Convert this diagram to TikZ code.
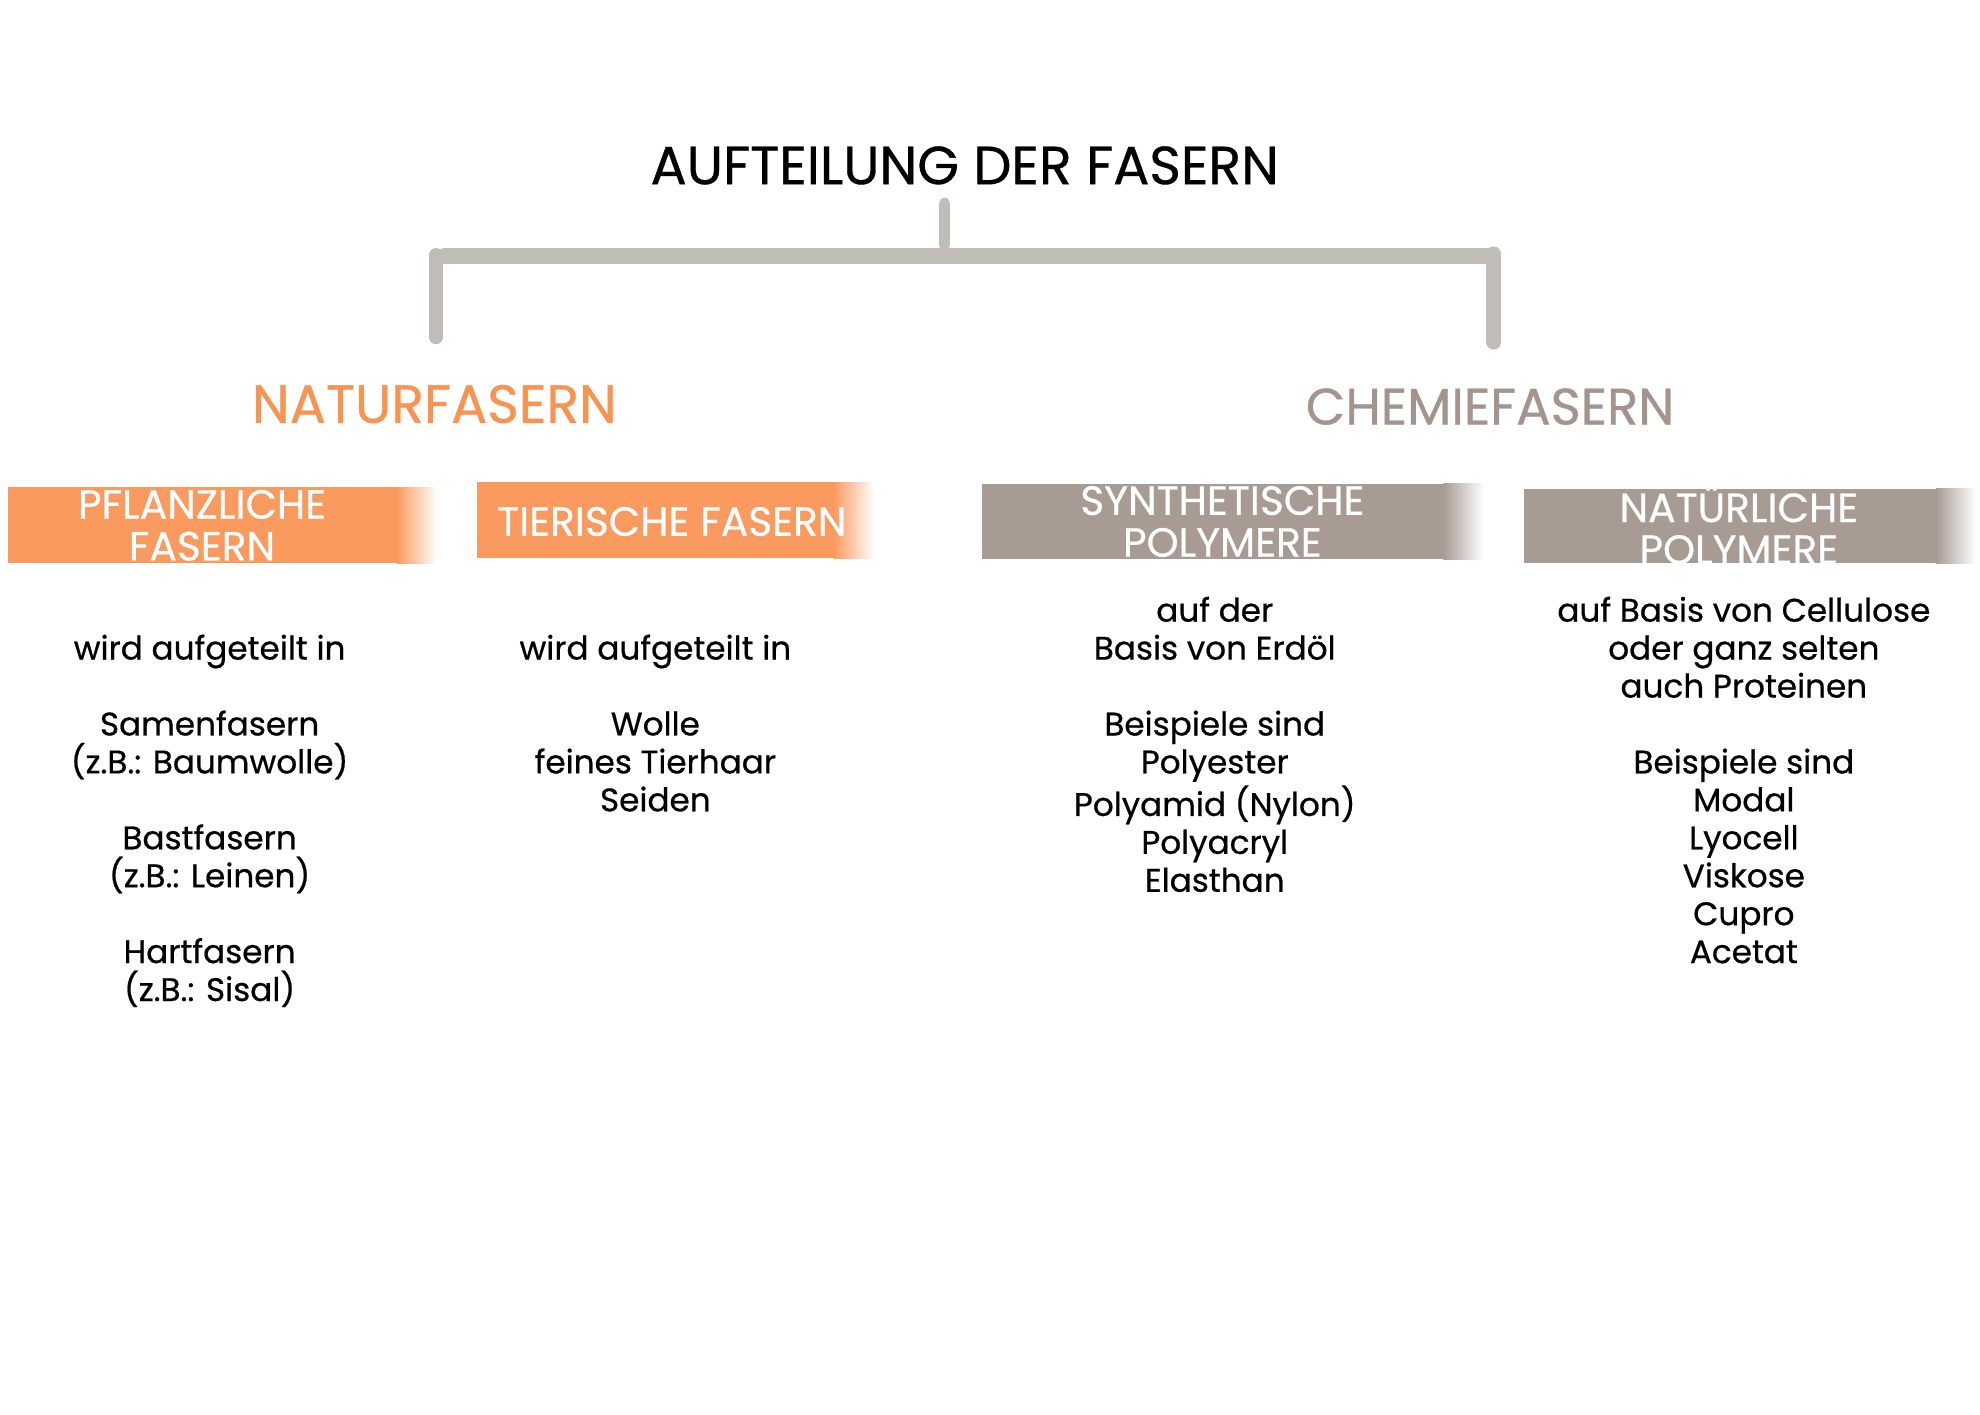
\documentclass[tikz,border=0pt]{standalone}
\usepackage{fontspec}
\setmainfont{Poppins}[FakeBold=0.6]
\usetikzlibrary{positioning}
\definecolor{orangebrush}{HTML}{FA9A5E}
\definecolor{greybrush}{HTML}{A89B93}
\definecolor{orangehead}{HTML}{F79452}
\definecolor{greyhead}{HTML}{A3958D}
\definecolor{bracketgrey}{HTML}{C0BDB8}
\tikzset{
  bracket/.style={draw=bracketgrey, line cap=round},
  headline/.style={font=\fontsize{15.3}{17}\selectfont},
  brushtext/.style={text=white, align=center, inner sep=0pt, font=\fontsize{11.6}{11.9}\selectfont},
  column/.style={align=center, inner sep=0pt, anchor=north, font=\fontsize{9.3}{10.8}\selectfont}
}
% brush stroke: colour, x1, y1, x2, y2
\newcommand{\brushbar}[5]{%
  \fill[#1] (#2,#3) rectangle ({#4-30},#5);
  \shade[left color=#1, middle color=#1, right color=white] ({#4-32},#3) rectangle (#4,#5);
}
\begin{document}
\begin{tikzpicture}[x=0.01263cm, y=-0.01263cm]
\useasboundingbox (0,0) rectangle (1568,1120);

\node[headline] (title) at (764,131) {AUFTEILUNG DER FASERN};

% bracket
\coordinate (stubtop) at (748,161);
\coordinate (stubbot) at (748,194);
\coordinate (barL) at (352,203);
\coordinate (barR) at (1177,203);
\coordinate (legL) at (345,267);
\coordinate (legR) at (1183,271);
\draw[bracket, line width=3.2pt] (stubtop) -- (stubbot);
\draw[bracket, line width=4.6pt] (barL) -- (barR);
\draw[bracket, line width=4pt] (345,202) -- (legL);
\draw[bracket, line width=4.2pt] (1183,201) -- (legR);

\node[headline, text=orangehead] (natur) at (344,320) {NATURFASERN};
\node[headline, text=greyhead, font=\fontsize{14.6}{17}\selectfont] (chemie) at (1180,322) {CHEMIEFASERN};

% brush boxes
\brushbar{orangebrush}{6}{386}{346}{446}
\brushbar{orangebrush}{378}{382}{692}{442}
\brushbar{greybrush}{778}{383}{1175}{443}
\brushbar{greybrush}{1207}{387}{1565}{446}

\node[brushtext] (pflanz) at (160,416) {PFLANZLICHE\\FASERN};
\node[brushtext] (tier) at (532,413) {TIERISCHE FASERN};
\node[brushtext] (synth) at (968,413) {SYNTHETISCHE\\POLYMERE};
\node[brushtext] (natpoly) at (1377,416) {NATÜRLICHE\\POLYMERE};

% columns
\node[column] (colA) at (166,502) {wird aufgeteilt in\\ \mbox{}\\ Samenfasern\\(z.B.: Baumwolle)\\ \mbox{}\\ Bastfasern\\(z.B.: Leinen)\\ \mbox{}\\ Hartfasern\\(z.B.: Sisal)};
\node[column] (colB) at (519,502) {wird aufgeteilt in\\ \mbox{}\\ Wolle\\feines Tierhaar\\Seiden};
\node[column] (colC) at (962,472) {auf der\\Basis von Erdöl\\ \mbox{}\\ Beispiele sind\\Polyester\\Polyamid (Nylon)\\Polyacryl\\Elasthan};
\node[column] (colD) at (1381,472) {auf Basis von Cellulose\\oder ganz selten\\auch Proteinen\\ \mbox{}\\ Beispiele sind\\Modal\\Lyocell\\Viskose\\Cupro\\Acetat};
\end{tikzpicture}
\end{document}
